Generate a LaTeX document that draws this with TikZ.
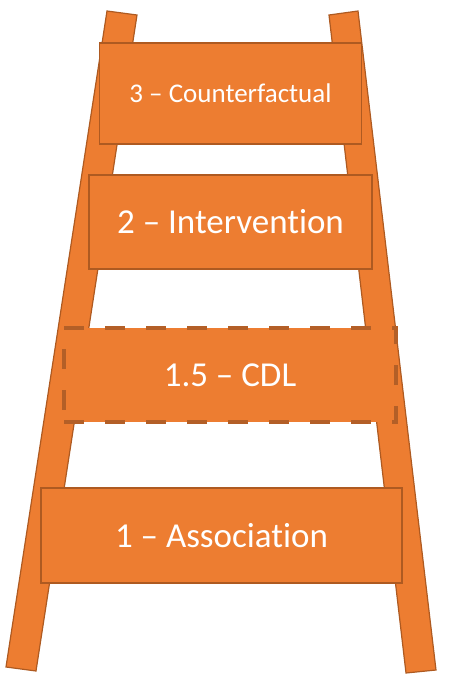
\documentclass[tikz,border=0pt]{standalone}
\usepackage{fontspec}
\setmainfont{Carlito}[Ligatures=NoCommon]
\definecolor{ladder}{HTML}{ED7D31}
\definecolor{ladderedge}{HTML}{AE5A21}
\definecolor{dashedge}{HTML}{B35F27}
\begin{document}
\begin{tikzpicture}[x=1pt,y=-1pt,
  rail/.style={fill=ladder,draw=ladderedge,line width=1.2pt,line join=miter},
  rung/.style={fill=ladder,draw=ladderedge,line width=1.5pt,text=white,inner sep=0pt},
  dashrung/.style={fill=ladder,draw=dashedge,line width=4.5pt,dash pattern=on 20pt off 21pt,text=white,inner sep=0pt}]
\useasboundingbox (0,0) rectangle (457,686);
% rails
\draw[rail] (107,11) -- (137,15) -- (36,671) -- (6,667) -- cycle;
\draw[rail] (329,15) -- (358,11) -- (436,670) -- (406,673) -- cycle;
% rungs
\node[rung,minimum width=262pt,minimum height=101pt,font=\fontsize{27}{30}\selectfont] (c) at (230.5,93.5) {3 – Counterfactual};
\node[rung,minimum width=283pt,minimum height=94pt,font=\fontsize{35}{40}\selectfont] (i) at (230.5,222) {2 – Intervention};
\node[dashrung,minimum width=332pt,minimum height=94pt,font=\fontsize{35}{40}\selectfont] (d) at (230,375) {1.5 – CDL};
\node[rung,minimum width=361pt,minimum height=95pt,font=\fontsize{35}{40}\selectfont] (a) at (221.5,535.5) {1 – Association};
\end{tikzpicture}
\end{document}
